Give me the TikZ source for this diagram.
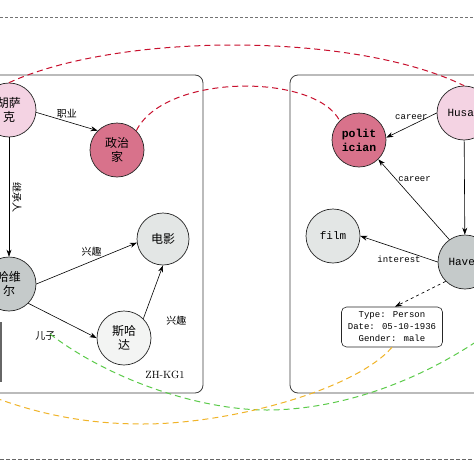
\documentclass[tikz,border=0pt]{standalone}
\usepackage{fontspec}
\usepackage{graphicx}
\newfontfamily\cjk{Noto Sans CJK SC}
\newfontfamily\monof{Liberation Mono}
\usetikzlibrary{arrows.meta}
\definecolor{pinkL}{HTML}{F4D3E3}
\definecolor{rose}{HTML}{D8728B}
\definecolor{grayD}{HTML}{C5CACA}
\definecolor{grayL}{HTML}{E3E6E5}
\definecolor{grayVL}{HTML}{F3F4F3}
\definecolor{alred}{HTML}{C8102E}
\definecolor{algreen}{HTML}{5CCB4A}
\definecolor{alorange}{HTML}{F0B429}
\begin{document}
\begin{tikzpicture}[x=1pt,y=-1pt,
  ent/.style={circle, draw=black!85, line width=0.7pt, minimum size=54pt, inner sep=0pt, align=center, font=\cjk\fontsize{12}{14}\selectfont},
  ent en/.style={ent, font=\monof\fontsize{11}{14}\selectfont},
  rel/.style={-{Stealth[length=7pt,width=5pt]}, line width=0.6pt},
  lab/.style={font=\cjk\fontsize{10}{11}\selectfont, inner sep=2pt},
  lab en/.style={font=\monof\fontsize{9}{10}\selectfont, inner sep=2pt},
  kgbox/.style={rounded corners=8pt, line width=0.8pt, draw=black!75},
  alline/.style={dash pattern=on 6pt off 4pt, line width=1pt},
  attrbox/.style={draw=black!85, rounded corners=5pt, line width=0.6pt, align=center, minimum width=101pt, minimum height=40pt, inner sep=1pt, font=\monof\fontsize{9}{12}\selectfont}
]
\useasboundingbox (0,0) rectangle (474,474);
\clip (0,0) rectangle (474,474);
\fill[white] (0,0) rectangle (474,474);

% separator lines
\draw[black!55, line width=0.6pt, dash pattern=on 3pt off 2pt] (0,17) -- (474,17);
\draw[black!60, line width=1pt, dash pattern=on 4pt off 2pt] (0,459) -- (474,459);

% KG boxes
\draw[kgbox] (-10,75) rectangle (203,393);
\draw[kgbox] (290,75) rectangle (490,393);
\fill[black!60] (0,322) rectangle (2,382);

% left KG nodes
\node[ent, fill=pinkL] (husakzh) at (9,110) {胡萨\\克};
\node[ent, fill=rose] (zzj) at (117,150) {政治\\家};
\node[ent, fill=grayD] (havelzh) at (9,284) {哈维\\尔};
\node[ent, fill=grayL, minimum size=52pt] (dy) at (163,239) {电影};
\node[ent, fill=grayVL] (shd) at (124,338) {斯哈\\达};

\draw[rel] (husakzh.-5) -- node[lab, above=1pt, pos=0.5] {职业} (zzj.135);
\draw[rel] (husakzh) -- node[lab, right=1pt, pos=0.5] {\rotatebox{-90}{继承人}} (havelzh);
\draw[rel] (havelzh.east) -- node[lab, above=3pt, pos=0.55] {兴趣} (dy.188);
\draw[rel] (havelzh.-45) -- node[lab, pos=0.25, yshift=-24pt] (erzi) {儿子} (shd.west);
\draw[rel] (shd.45) -- node[lab, pos=0, anchor=center, xshift=33pt, yshift=-2pt] {兴趣} (dy.south);
\node[font=\fontsize{10.5}{12}\selectfont] (kg1) at (165,375) {ZH-KG1};

% right KG nodes
\node[ent en, fill=rose, font=\monof\bfseries\fontsize{11.5}{14}\selectfont] (pol) at (359,140) {polit\\ician};
\node[ent en, fill=pinkL] (husak) at (464,113) {Husak};
\node[ent en, fill=grayD] (havel) at (465,262) {Havel};
\node[ent en, fill=grayL] (film) at (333,236) {film};
\node[attrbox] (attr) at (392,327) {Type: Person\\Date: 05-10-1936\\Gender: male};

\draw[rel] (husak.west) -- node[lab en, above=3pt, pos=0.5] {career} (pol.5);
\draw[rel] (husak) -- (havel);
\draw[rel] (havel.125) -- node[lab en, right, pos=0.75] {career} (pol.-45);
\draw[rel] (havel.west) -- node[lab en, below=5pt, pos=0.5] {interest} (film.east);
\draw[rel, dashed] (havel.-135) -- ([xshift=3pt]attr.north);

% alignment curves
\coordinate (gstart) at (50,334);
\coordinate (gend) at (500,325);
\coordinate (oend) at (-20,392);
\draw[alline, alred] (husakzh.north) .. controls (120,32) and (355,32) .. (husak.north);
\draw[alline, alred] (zzj.45) .. controls (165,73) and (315,73) .. (pol.135);
\draw[alline, algreen] (gstart) .. controls (110,380) and (200,410) .. (267,410)
  .. controls (334,410) and (420,385) .. (gend);
\draw[alline, alorange] (attr.south) .. controls (355,390) and (230,424) .. (143,424)
  .. controls (80,424) and (30,412) .. (oend);
\end{tikzpicture}
\end{document}
